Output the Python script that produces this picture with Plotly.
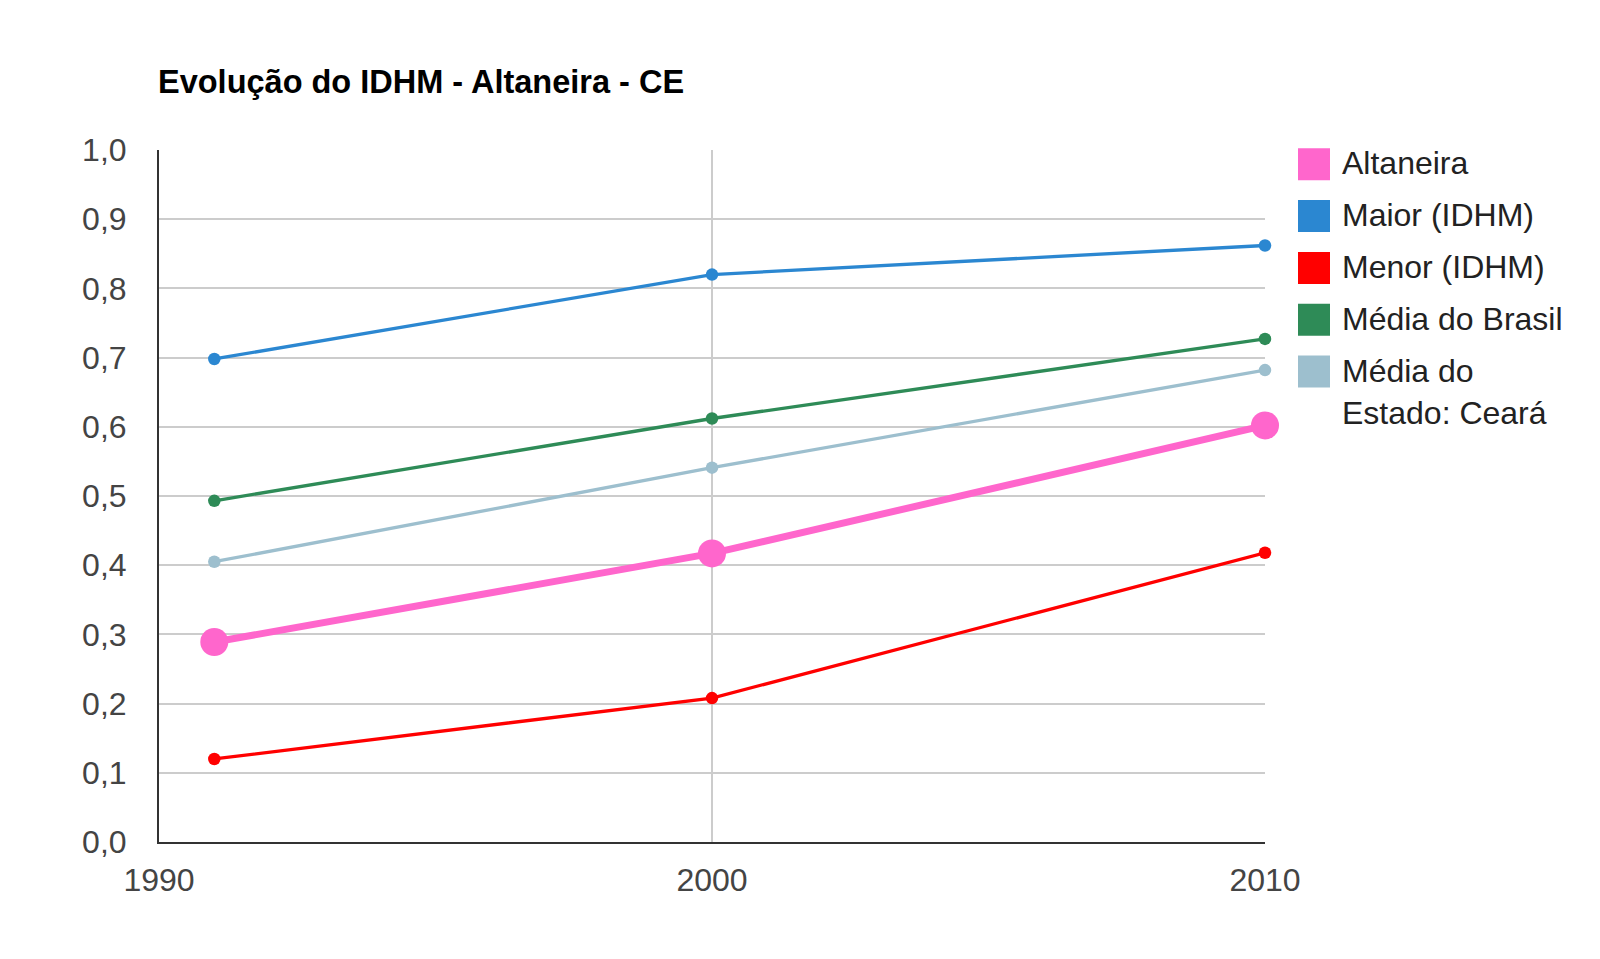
import plotly.graph_objects as go

years = [1991, 2000, 2010]
series_names = ["Altaneira", "Maior (IDHM)", "Menor (IDHM)", "Média do Brasil", "Média do Estado: Ceará"]
legend_labels = ["Altaneira", "Maior (IDHM)", "Menor (IDHM)", "Média do Brasil", "Média do<br>Estado: Ceará"]
altaneira = [0.289, 0.417, 0.602]
maior = [0.698, 0.820, 0.862]
menor = [0.120, 0.208, 0.418]
brasil = [0.493, 0.612, 0.727]
ceara = [0.405, 0.541, 0.682]
x_ticks = [1990, 2000, 2010]
y_ticks = [0.0, 0.1, 0.2, 0.3, 0.4, 0.5, 0.6, 0.7, 0.8, 0.9, 1.0]

colors = ["#FF66CC", "#2B87D1", "#FF0000", "#2E8B57", "#9DBFCE"]
values = [altaneira, maior, menor, brasil, ceara]
widths = [7, 3.3, 3.3, 3.3, 3.3]
msizes = [28, 12.5, 12.5, 12.5, 12.5]

fig = go.Figure()
order = [4, 3, 2, 1, 0]
for i in order:
    fig.add_trace(go.Scatter(
        x=years, y=values[i], name=series_names[i], mode="lines+markers",
        line=dict(color=colors[i], width=widths[i]),
        marker=dict(color=colors[i], size=msizes[i]),
        showlegend=False, cliponaxis=False))

# page is offset by the 8px body margin
W, H = 1584, 943
L, T = 151, 142
R, B = W - 1257, H - 834
pw, ph = W - L - R, H - T - B
FONT = "Liberation Sans, Arial"
for k, (lab, col) in enumerate(zip(legend_labels, colors)):
    yc = 156.3 + k * 51.8
    x0 = 1290
    fig.add_shape(type="rect", xref="paper", yref="paper",
                  x0=(x0 - L) / pw, x1=(x0 + 32 - L) / pw,
                  y0=(H - B - (yc + 16)) / ph, y1=(H - B - (yc - 16)) / ph,
                  fillcolor=col, line=dict(width=0))
    fig.add_annotation(xref="paper", yref="paper",
                       x=(1332 - L) / pw, y=(H - B - (yc - 21)) / ph,
                       xanchor="left", yanchor="top", text=lab, showarrow=False,
                       align="left", font=dict(family=FONT, size=32, color="#222222"))

fig.update_layout(
    width=W, height=H,
    margin=dict(l=L, r=R, t=T, b=B),
    paper_bgcolor="white", plot_bgcolor="white",
    separators=",.",
    showlegend=False,
    title=dict(text="<b>Evolução do IDHM - Altaneira - CE</b>", x=150 / W, xanchor="left",
               y=1 - 73.6 / H, yanchor="middle",
               font=dict(family=FONT, size=32.5, color="#000000")),
    font=dict(family=FONT, size=32, color="#444444"),
)
fig.update_xaxes(range=[1990, 2010], tickvals=x_ticks, ticktext=[str(t) for t in x_ticks],
                 showgrid=True, gridcolor="#CCCCCC", gridwidth=1.5,
                 showline=True, linecolor="#333333", linewidth=2,
                 zeroline=False, ticks="", ticklabelstandoff=9)
fig.update_yaxes(range=[0, 1.0], tickvals=y_ticks, tickformat=".1f",
                 showgrid=True, gridcolor="#CCCCCC", gridwidth=1.5,
                 showline=True, linecolor="#333333", linewidth=2,
                 zeroline=False, ticks="", ticklabelstandoff=24)

fig.write_html("out.html")
